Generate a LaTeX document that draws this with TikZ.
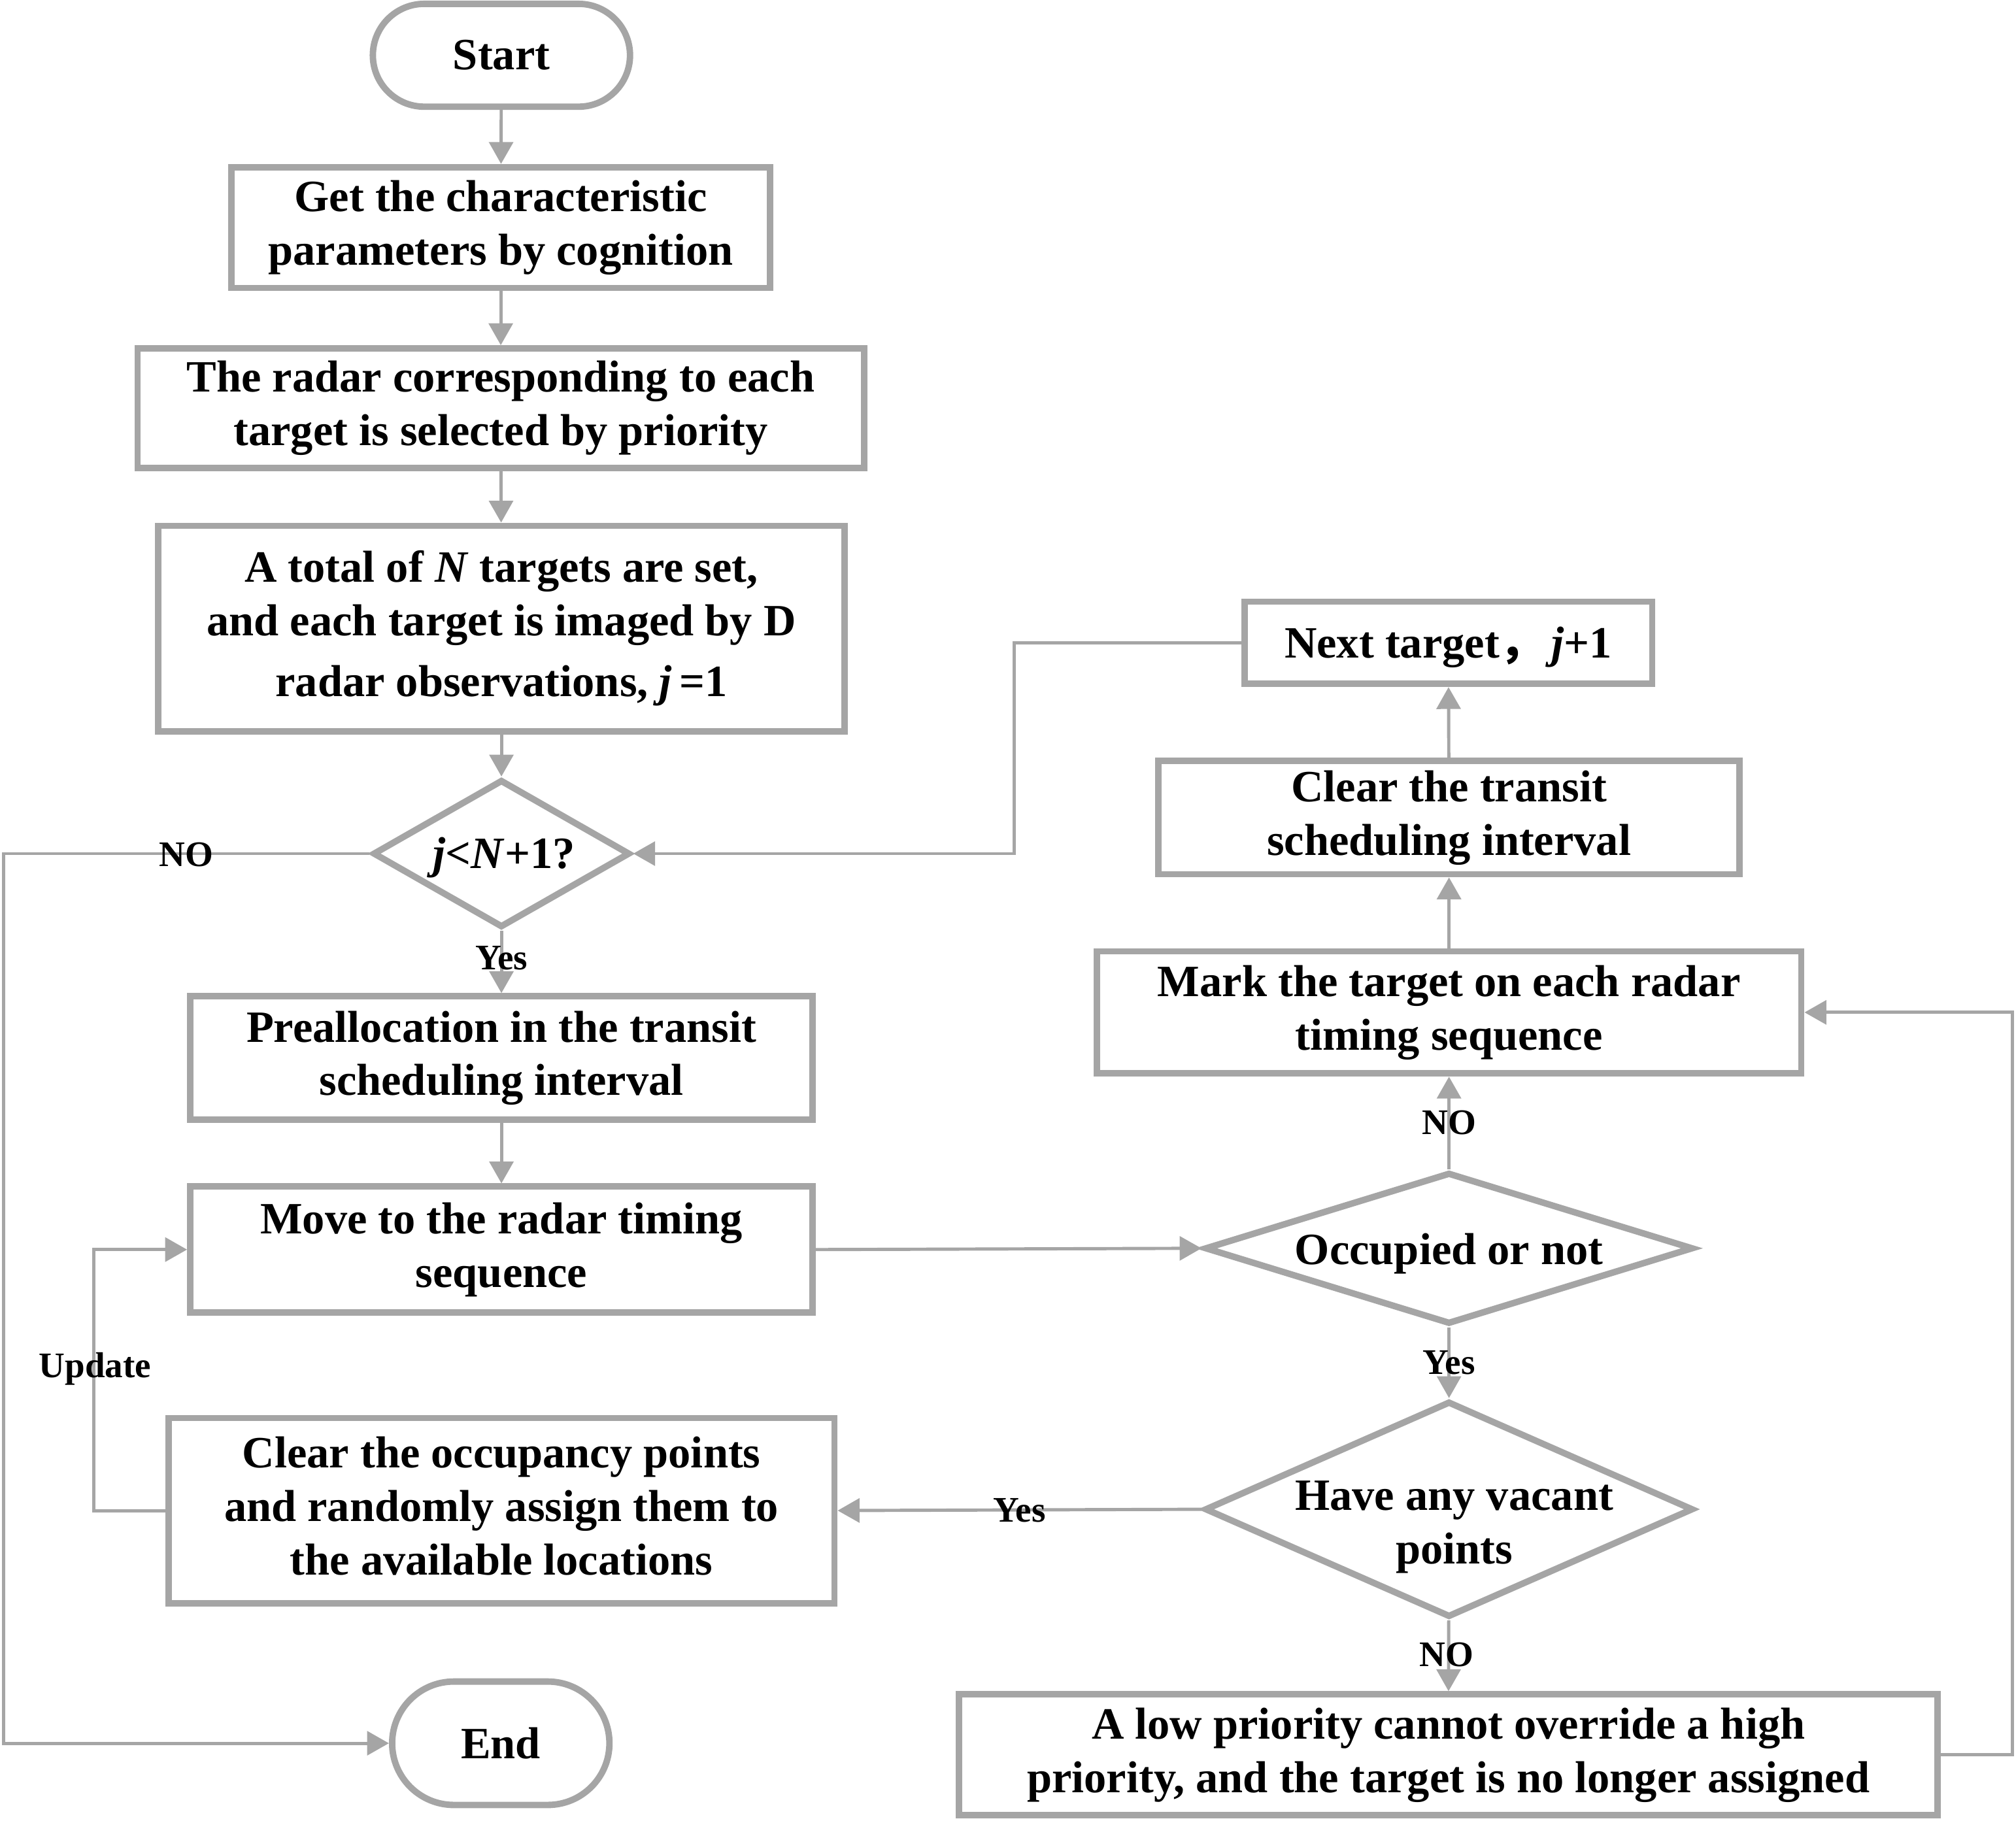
\documentclass[tikz,border=0pt]{standalone}
\usepackage{fontspec}
\setmainfont{Liberation Serif}
\newfontfamily\cjk{Noto Sans CJK SC}
\usetikzlibrary{arrows.meta,shapes.geometric,calc}
\definecolor{lg}{HTML}{A5A5A5}
\newcommand\mlt[2][1.5pt]{\begin{tabular}{@{}c@{}}\rule{0pt}{\dimexpr 0.7\baselineskip+#1\relax}#2\end{tabular}}
\tikzset{
  boxbase/.style={draw=lg, line width=2.5pt, fill=white, inner sep=0pt,
    font=\fontsize{17.4}{20.8}\selectfont\bfseries},
  box/.style={boxbase, align=center},
  ml/.style={boxbase},
  term/.style={box, rounded corners=20pt},
  dia/.style={draw=lg, line width=2.5pt, diamond, inner sep=0pt, fill=white},
  diatext/.style={align=center, font=\fontsize{17.4}{20.8}\selectfont\bfseries},
  lbl/.style={font=\fontsize{14}{16}\selectfont\bfseries, inner sep=0pt},
  conn/.style={draw=lg, line width=1.25pt},
  arr/.style={conn, -{Triangle[length=8.5pt,width=9.3pt]}}
}
\begin{document}
\begin{tikzpicture}[x=0.5pt,y=-0.5pt]
\useasboundingbox (0,0) rectangle (1568,1416);
% nodes
\node[term, minimum width=100pt, minimum height=40pt] (start) at (390,43) {Start};
\node[ml, minimum width=209.5pt, minimum height=47pt] (b1) at (389.5,177) {\mlt{Get the characteristic\\parameters by cognition}};
\node[ml, minimum width=282.5pt, minimum height=46.5pt] (b2) at (389.5,317.5) {\mlt{The radar corresponding to each\\target is selected by priority}};
\node[ml, minimum width=267pt, minimum height=80pt] (b3) at (390,489) {\mlt[4.5pt]{A total of \textit{N} targets are set,\\and each target is imaged by D\\[3pt]radar observations, \textit{j}\,=1}};
\node[dia, minimum width=100pt, minimum height=57.5pt] (d1) at (390,664) {};
\node[diatext] (d1t) at (392,667) {\textit{j}<\textit{N}+1?};
\node[ml, minimum width=242pt, minimum height=48pt] (b4) at (390,823) {\mlt{Preallocation in the transit\\scheduling interval}};
\node[ml, minimum width=242pt, minimum height=49pt] (b5) at (390,972) {\mlt{Move to the radar timing\\sequence}};
\node[ml, minimum width=259pt, minimum height=72pt] (cocc) at (390,1175) {\mlt[1pt]{Clear the occupancy points\\and randomly assign them to\\the available locations}};
\node[box, rounded corners=24pt, minimum width=84.5pt, minimum height=48pt] (end) at (389.5,1356) {End};

\node[box, text height=13.5pt, text depth=2pt, minimum width=158.5pt, minimum height=32pt] (next) at (1126.5,500) {Next target{\cjk ，}\,\textit{j}+1};
\node[ml, minimum width=226pt, minimum height=44pt] (clr) at (1127,636) {\mlt{Clear the transit\\scheduling interval}};
\node[ml, minimum width=274pt, minimum height=47.5pt] (mark) at (1127,787.5) {\mlt{Mark the target on each radar\\timing sequence}};
\node[dia, minimum width=190pt, minimum height=59pt] (d2) at (1127,971) {};
\node[diatext] (d2t) at (1127,975) {Occupied or not};
\node[dia, minimum width=190pt, minimum height=84pt] (d3) at (1127,1174) {};
\node[diatext] (d3t) at (1131,1188) {Have any vacant\\points};
\node[ml, minimum width=380.5pt, minimum height=47pt] (low) at (1126.5,1365) {\mlt{A low priority cannot override a high\\priority, and the target is no longer assigned}};

% connectors
\draw[arr] (start) -- (b1);
\draw[arr] (b1) -- (b2);
\draw[arr] (b2) -- (b3);
\draw[arr] (b3) -- (d1);
\draw[arr] (d1) -- (b4);
\draw[arr] (b4) -- (b5);
\draw[arr] (b5.east) -- (d2.west);
\draw[arr] (d2) -- (mark);
\draw[arr] (mark) -- (clr);
\draw[arr] (clr) -- (next);
\draw[arr] (d2) -- (d3);
\draw[arr] (d3) -- (low);
\draw[arr] (d3.west) -- (cocc.east);

\coordinate (cn) at (789,500);
\draw[arr] (next.west) -- (cn) |- (d1.east);
\coordinate (cno) at (3,664);
\draw[arr] (d1.west) -- (cno) |- (end.west);
\coordinate (cup) at (73,1175);
\draw[arr] (cocc.west) -- (cup) |- (b5.west);
\coordinate (clow) at (1565,1365);
\draw[arr] (low.east) -- (clow) |- (mark.east);

% labels
\node[lbl] (lno1) at (145,665) {NO};
\node[lbl] (lyes1) at (390,745) {Yes};
\node[lbl] (lno2) at (1127,873) {NO};
\node[lbl] (lyes2) at (1127,1060) {Yes};
\node[lbl] (lyes3) at (793,1175) {Yes};
\node[lbl] (lno3) at (1125,1287) {NO};
\node[lbl] (lupd) at (74,1065) {Update};
\end{tikzpicture}
\end{document}
